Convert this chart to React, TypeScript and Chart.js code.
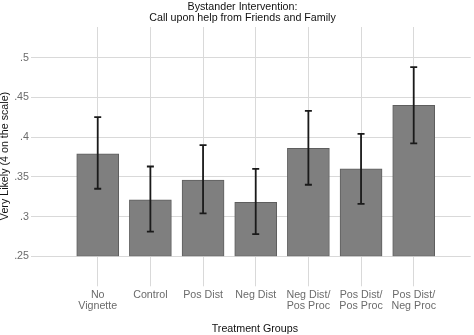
import React, { useEffect, useRef } from 'react';
import { Chart, registerables } from 'chart.js';

Chart.register(...registerables);

const titleLines = ['Bystander Intervention:', 'Call upon help from Friends and Family'];
const yAxisTitle = 'Very Likely (4 on the scale)';
const xAxisTitle = 'Treatment Groups';

const categories: string[][] = [
  ['No', 'Vignette'],
  ['Control'],
  ['Pos Dist'],
  ['Neg Dist'],
  ['Neg Dist/', 'Pos Proc'],
  ['Pos Dist/', 'Pos Proc'],
  ['Pos Dist/', 'Neg Proc'],
];
const means = [0.379, 0.321, 0.346, 0.318, 0.386, 0.360, 0.440];
const ciLow = [0.335, 0.281, 0.304, 0.278, 0.340, 0.316, 0.392];
const ciHigh = [0.425, 0.363, 0.390, 0.360, 0.433, 0.404, 0.488];
const yTickValues = [0.25, 0.3, 0.35, 0.4, 0.45, 0.5];
const yTickLabels = ['.25', '.3', '.35', '.4', '.45', '.5'];
const baseValue = 0.25;

const FONT = '"Liberation Sans", Arial, sans-serif';
const GRID = '#d9d9d9';
const TICK_COLOR = '#6b6b6b';

export default function App() {
  const ref = useRef<HTMLCanvasElement | null>(null);

  useEffect(() => {
    if (!ref.current) return;

    const errorBars = {
      id: 'errorBars',
      afterDatasetsDraw(chart: any) {
        const { ctx } = chart;
        const xs = chart.scales.x;
        const ys = chart.scales.y;
        ctx.save();
        ctx.strokeStyle = '#1a1a1a';
        ctx.lineWidth = 1.8;
        means.forEach((_, i) => {
          const x = xs.getPixelForValue(i + 1);
          const yl = ys.getPixelForValue(ciLow[i]);
          const yh = ys.getPixelForValue(ciHigh[i]);
          ctx.beginPath();
          ctx.moveTo(x, yl);
          ctx.lineTo(x, yh);
          ctx.moveTo(x - 3.5, yl);
          ctx.lineTo(x + 3.5, yl);
          ctx.moveTo(x - 3.5, yh);
          ctx.lineTo(x + 3.5, yh);
          ctx.stroke();
        });
        ctx.restore();
      },
    };

    const titles = {
      id: 'titles',
      afterDraw(chart: any) {
        const { ctx } = chart;
        ctx.save();
        ctx.fillStyle = '#111';
        ctx.font = `10.7px ${FONT}`;
        ctx.textAlign = 'center';
        ctx.textBaseline = 'alphabetic';
        ctx.fillText(titleLines[0], 242.5, 10.4);
        ctx.fillText(titleLines[1], 242.5, 21);
        ctx.translate(5.5, 156);
        ctx.rotate(-Math.PI / 2);
        ctx.textBaseline = 'middle';
        ctx.fillText(yAxisTitle, 0, 0);
        ctx.restore();
      },
    };

    const chart = new Chart(ref.current, {
      type: 'bar',
      data: {
        datasets: [
          {
            data: means.map((m, i) => ({ x: i + 1, y: [baseValue, m] })) as any,
            backgroundColor: '#7f7f7f',
            borderColor: '#5e5e5e',
            borderWidth: 1,
            borderSkipped: false,
            barThickness: 42,
          },
        ],
      },
      options: {
        animation: false,
        responsive: false,
        devicePixelRatio: 1,
        layout: { padding: { top: 27, right: 3.3, left: 0, bottom: 0 } },
        plugins: {
          legend: { display: false },
          tooltip: { enabled: false },
          title: { display: false },
        },
        scales: {
          x: {
            type: 'linear',
            offset: false,
            min: -0.115,
            max: 8.082,
            afterBuildTicks(scale: any) {
              scale.ticks = categories.map((_, i) => ({ value: i + 1 }));
            },
            afterFit(scale: any) {
              scale.height = 78.7;
              scale.paddingLeft = 0;
              scale.paddingRight = 0;
            },
            ticks: {
              autoSkip: false,
              maxRotation: 0,
              minRotation: 0,
              padding: 3,
              color: TICK_COLOR,
              font: { family: FONT, size: 10.7, lineHeight: 1.05 },
              callback: (v: any) => categories[Math.round(v) - 1] || '',
            },
            grid: { color: GRID, lineWidth: 1, tickLength: 30, drawTicks: true, offset: false },
            border: { display: false },
            title: {
              display: true,
              text: xAxisTitle,
              color: '#111',
              font: { family: FONT, size: 10.7, lineHeight: 1.2 },
              padding: { top: 0, bottom: 0 },
            },
          },
          y: {
            type: 'linear',
            min: 0.25,
            max: 0.5385,
            afterBuildTicks(scale: any) {
              scale.ticks = yTickValues.map((v) => ({ value: v }));
            },
            afterFit(scale: any) {
              scale.width = 39;
            },
            ticks: {
              padding: 2,
              color: TICK_COLOR,
              font: { family: FONT, size: 10.7 },
              callback: (v: any) => {
                const idx = yTickValues.findIndex((t) => Math.abs(t - v) < 1e-9);
                return idx >= 0 ? yTickLabels[idx] : '';
              },
            },
            grid: { color: GRID, lineWidth: 1, tickLength: 8, drawTicks: true },
            border: { display: false },
          },
        },
      },
      plugins: [errorBars, titles],
    });

    return () => chart.destroy();
  }, []);

  return (
    <div style={{ position: 'absolute', left: 0, top: 0, width: 474, height: 335, background: '#fff' }}>
      <canvas ref={ref} width={474} height={335} style={{ display: 'block' }} />
    </div>
  );
}
